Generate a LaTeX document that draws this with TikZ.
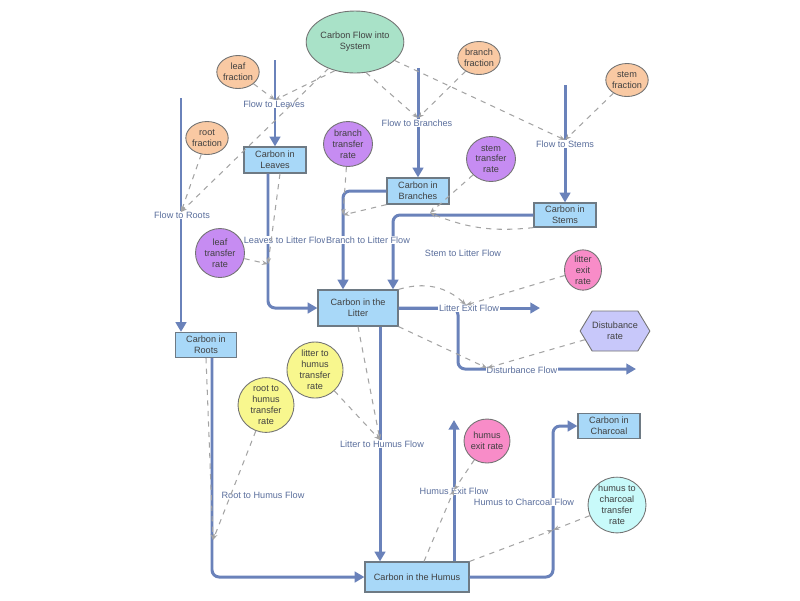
\documentclass[tikz,border=0pt]{standalone}
\usepackage{fontspec}
\setmainfont{Liberation Sans}
\usetikzlibrary{arrows.meta,shapes.geometric,shapes.symbols}

\definecolor{stockfill}{HTML}{A8D8F8}
\definecolor{stockline}{HTML}{6E7A84}
\definecolor{flowblue}{HTML}{6A82BA}
\definecolor{labelblue}{HTML}{5A6E9C}
\definecolor{linkgrey}{HTML}{A4A4A4}
\definecolor{orangefill}{HTML}{F9C9A3}
\definecolor{purplefill}{HTML}{C68CF2}
\definecolor{pinkfill}{HTML}{F88CC8}
\definecolor{yellowfill}{HTML}{F8F78E}
\definecolor{mintfill}{HTML}{A9E2C8}
\definecolor{cyanfill}{HTML}{C8FAFA}
\definecolor{hexfill}{HTML}{C8C8FA}

\tikzset{
  stock/.style={draw=stockline, line width=0.7pt, fill=stockfill, text=black!75,
    minimum width=1.24cm, minimum height=0.52cm, inner sep=0pt, align=center,
    font=\fontsize{5.2}{6.2}\selectfont},
  conv/.style={ellipse, draw=black!55, line width=0.5pt, inner sep=0pt, align=center,
    text=black!75, font=\fontsize{5.2}{6.2}\selectfont},
  flow/.style={draw=flowblue, line width=1.7pt, rounded corners=4pt,
    -{Triangle[length=5.5pt,width=6pt]}},
  link/.style={draw=linkgrey, dashed, line width=0.6pt, -{Stealth[length=3.5pt]}},
  lbl/.style={fill=white, inner sep=0.4pt, text=labelblue,
    font=\fontsize{5.2}{6.2}\selectfont}
}

\begin{document}
\begin{tikzpicture}[x=0.02cm,y=-0.02cm]
\useasboundingbox (0,0) rectangle (800,600);

% stocks
\node[stock] (cLeaves) at (275,160) {Carbon in\\Leaves};
\node[stock] (cBranches) at (418,191) {Carbon in\\Branches};
\node[stock, minimum height=0.48cm] (cStems) at (565,215) {Carbon in\\Stems};
\node[stock, minimum width=1.6cm, minimum height=0.72cm] (cLitter) at (358,308) {Carbon in the\\Litter};
\node[stock, minimum width=1.22cm, minimum height=0.5cm] (cRoots) at (206,345) {Carbon in\\Roots};
\node[stock, minimum width=2.08cm, minimum height=0.6cm] (cHumus) at (417,577) {Carbon in the Humus};
\node[stock, minimum height=0.5cm] (cCharcoal) at (609,426) {Carbon in\\Charcoal};

% converters
\node[conv, fill=mintfill, minimum width=1.5cm, minimum height=1.24cm] (cfis) at (355,42) {Carbon Flow into\\System};
\node[conv, fill=orangefill, minimum width=0.72cm, minimum height=0.66cm] (leafFrac) at (238,72) {leaf\\fraction};
\node[conv, fill=orangefill, minimum width=0.72cm, minimum height=0.66cm] (branchFrac) at (479,58) {branch\\fraction};
\node[conv, fill=orangefill, minimum width=0.72cm, minimum height=0.66cm] (stemFrac) at (627,80) {stem\\fraction};
\node[conv, fill=orangefill, minimum width=0.72cm, minimum height=0.66cm] (rootFrac) at (207,138) {root\\fraction};
\node[conv, fill=purplefill, minimum width=0.98cm, minimum height=0.9cm] (branchRate) at (348,144) {branch\\transfer\\rate};
\node[conv, fill=purplefill, minimum width=0.98cm, minimum height=0.9cm] (stemRate) at (491,159) {stem\\transfer\\rate};
\node[conv, fill=purplefill, minimum width=0.98cm, minimum height=0.98cm] (leafRate) at (220,253) {leaf\\transfer\\rate};
\node[conv, fill=pinkfill, minimum width=0.74cm, minimum height=0.76cm] (litExitRate) at (583,270) {litter\\exit\\rate};
\node[signal, signal to=east and west, signal pointer angle=118, draw=black!55, line width=0.5pt,
  fill=hexfill, text=black!75, inner sep=0pt, minimum width=1.24cm, minimum height=0.8cm, align=center,
  font=\fontsize{5.2}{6.2}\selectfont] (distRate) at (615,331) {Distubance\\rate};
\node[conv, fill=yellowfill, minimum width=1.12cm, minimum height=1.12cm] (litHumRate) at (315,370) {litter to\\humus\\transfer\\rate};
\node[conv, fill=yellowfill, minimum width=1.12cm, minimum height=0.88cm] (rootHumRate) at (266,405) {root to\\humus\\transfer\\rate};
\node[conv, fill=pinkfill, minimum width=0.9cm, minimum height=0.88cm] (humExitRate) at (487,441) {humus\\exit rate};
\node[conv, fill=cyanfill, minimum width=1.16cm, minimum height=1.04cm] (humCharRate) at (617,505) {humus to\\charcoal\\transfer\\rate};

% flow ends and valves
\coordinate (srcLeaves) at (275,60);
\coordinate (srcBranches) at (418,68);
\coordinate (srcStems) at (565,85);
\coordinate (srcRoots) at (181,98);
\coordinate (vLeaves) at (275,100);
\coordinate (vBranches) at (418,118);
\coordinate (vStems) at (565,140);
\coordinate (vRoots) at (181,212);
\coordinate (vLeafLit) at (268,264);
\coordinate (vBranchLit) at (343,215);
\coordinate (vStemLit) at (430,213);
\coordinate (kStem) at (393,217);
\coordinate (vLitExit) at (466,305);
\coordinate (outLitter) at (540,308);
\coordinate (kDist) at (458,369);
\coordinate (vDist) at (487,368);
\coordinate (outDist) at (636,369);
\coordinate (vLitHum) at (380,440);
\coordinate (kRoot) at (212,578);
\coordinate (vRootHum) at (213,540);
\coordinate (vHumExit) at (454,490);
\coordinate (outHumus) at (454,420);
\coordinate (vHumChar) at (553,530);

% flows
\draw[flow] (srcLeaves) -- (cLeaves.north);
\draw[flow] (srcBranches) -- (cBranches.north);
\draw[flow] (srcStems) -- (cStems.north);
\draw[flow] (srcRoots) -- (cRoots.north -| srcRoots);
\draw[flow] (cLeaves.south -| vLeafLit) |- (cLitter.west);
\draw[flow] (cBranches.west) -| (vBranchLit |- cLitter.north);
\draw[flow] (cStems.west) -| (kStem |- cLitter.north);
\draw[flow] (cLitter.east) -- (outLitter);
\draw[flow] (cLitter.east) -| (kDist) -- (outDist);
\draw[flow] (cLitter.south -| vLitHum) -- (cHumus.north -| vLitHum);
\draw[flow] (cRoots.south -| kRoot) |- (cHumus.west);
\draw[flow] (cHumus.north -| vHumExit) -- (outHumus);
\draw[flow] (cHumus.east) -| (vHumChar) |- (cCharcoal.west);

% flow labels
\node[lbl] (lLeaves) at (274,104) {Flow to Leaves};
\node[lbl] (lBranches) at (417,123) {Flow to Branches};
\node[lbl] (lStems) at (565,144) {Flow to Stems};
\node[lbl] (lRoots) at (182,215) {Flow to Roots};
\node[lbl] (lLeafLit) at (286,240) {Leaves to Litter Flow};
\node[lbl] (lBranchLit) at (368,240) {Branch to Litter Flow};
\node[lbl] (lStemLit) at (463,253) {Stem to Litter Flow};
\node[lbl] (lLitExit) at (469,308) {Litter Exit Flow};
\node[lbl] (lDist) at (522,370) {Disturbance Flow};
\node[lbl] (lLitHum) at (382,444) {Litter to Humus Flow};
\node[lbl] (lRootHum) at (263,495) {Root to Humus Flow};
\node[lbl] (lHumExit) at (454,491) {Humus Exit Flow};
\node[lbl] (lHumChar) at (524,502) {Humus to Charcoal Flow};

% links
\draw[link] (cfis.235) -- (vLeaves);
\draw[link] (cfis.225) -- (vRoots);
\draw[link] (cfis.290) -- (vBranches);
\draw[link] (cfis.335) -- (vStems);
\draw[link] (leafFrac) -- (vLeaves);
\draw[link] (branchFrac) -- (vBranches);
\draw[link] (stemFrac) -- (vStems);
\draw[link] (rootFrac) -- (vRoots);
\draw[link] ([xshift=0.1cm]cLeaves.south) -- (vLeafLit);
\draw[link] (leafRate) -- (vLeafLit);
\draw[link] (branchRate) -- (vBranchLit);
\draw[link] (cBranches.south west) -- (vBranchLit);
\draw[link] (stemRate) -- (vStemLit);
\draw[link] (cStems.south west) to[bend left=14] (vStemLit);
\draw[link] (litExitRate) -- (vLitExit);
\draw[link] (cLitter.north east) to[bend left=30] (vLitExit);
\draw[link] (distRate) -- (vDist);
\draw[link] (cLitter.south east) -- (vDist);
\draw[link] (litHumRate) -- (vLitHum);
\draw[link] (cLitter.south) -- (vLitHum);
\draw[link] (rootHumRate) -- (vRootHum);
\draw[link] (cRoots.south) -- (vRootHum);
\draw[link] (humExitRate) -- (vHumExit);
\draw[link] ([xshift=0.14cm]cHumus.north) -- (vHumExit);
\draw[link] (humCharRate) -- (vHumChar);
\draw[link] (cHumus.north east) -- (vHumChar);
\end{tikzpicture}
\end{document}
